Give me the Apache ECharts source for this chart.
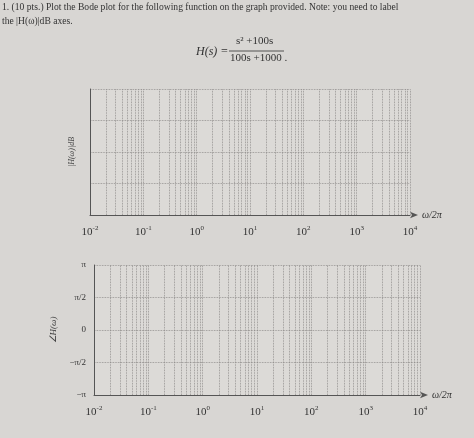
<!DOCTYPE html>
<html>
<head>
<meta charset="utf-8">
<script src="https://cdn.jsdelivr.net/npm/echarts@6/dist/echarts.min.js"></script>
<style>html,body{margin:0;padding:0;background:#d8d6d3}#chart{width:474px;height:438px}</style>
</head>
<body>
<div id="chart"></div>
<script>
// 频率范围 (对数轴)
const freqMin = 0.01;
const freqMax = 10000;
const decades = [0.01, 0.1, 1, 10, 100, 1000];
const minorMultipliers = [2, 3, 4, 5, 6, 7, 8, 9];
// 相位刻度
const phaseTicks = { '2': 'π', '1': 'π/2', '0': '0', '-1': '−π/2', '-2': '−π' };

const minorLines = [];
decades.forEach(d => minorMultipliers.forEach(m => minorLines.push({ xAxis: d * m })));
decades.slice(1).forEach(d => minorLines.push({ xAxis: d }));

const gridLine = { color: '#8a8886', width: 0.8, type: 'dotted' };
const labelRich = {
    b: { fontFamily: 'Liberation Serif', fontSize: 11, color: '#333' },
    s: { fontFamily: 'Liberation Serif', fontSize: 7, color: '#333', verticalAlign: 'top', padding: [0, 0, 8, 0] }
};
function powLabel(v) {
    return '{b|10}{s|' + Math.round(Math.log10(v)) + '}';
}
function xAxisOf(idx) {
    return {
        type: 'log', logBase: 10, min: freqMin, max: freqMax, gridIndex: idx,
        name: 'ω/2π', nameGap: 12,
        nameTextStyle: { fontFamily: 'Liberation Serif', fontStyle: 'italic', fontSize: 10, color: '#333' },
        axisLine: { onZero: false, lineStyle: { color: '#555', width: 1 }, symbol: ['none', 'arrow'], symbolSize: [5, 8], symbolOffset: [0, 8] },
        axisTick: { show: false },
        splitLine: { show: false },
        axisLabel: { formatter: powLabel, rich: labelRich, margin: 10 }
    };
}

const chart = echarts.init(document.getElementById('chart'));
chart.setOption({
    animation: false,
    backgroundColor: '#d8d6d3',
    graphic: [
        { type: 'text', left: 2, top: 2, style: { text: '1. (10 pts.) Plot the Bode plot for the following function on the graph provided. Note: you need to label', font: '9.6px "Liberation Serif"', fill: '#333' } },
        { type: 'text', left: 2, top: 16, style: { text: 'the |H(ω)|dB axes.', font: '9.6px "Liberation Serif"', fill: '#333' } },
        { type: 'text', left: 196, top: 46, style: { text: 'H(s) =', font: 'italic 12px "Liberation Serif"', fill: '#333' } },
        { type: 'text', left: 236, top: 36, style: { text: 's² +100s', font: '11px "Liberation Serif"', fill: '#333' } },
        { type: 'line', shape: { x1: 229, y1: 51, x2: 284, y2: 51 }, style: { stroke: '#333', lineWidth: 0.8 } },
        { type: 'text', left: 230, top: 53, style: { text: '100s +1000 .', font: '11px "Liberation Serif"', fill: '#333' } }
    ],
    grid: [
        { left: 90, right: 64, top: 89, height: 126, show: true, backgroundColor: '#dcdad7', borderWidth: 0 },
        { left: 94, right: 54, top: 265, height: 130, show: true, backgroundColor: '#dcdad7', borderWidth: 0 }
    ],
    xAxis: [xAxisOf(0), xAxisOf(1)],
    yAxis: [
        {
            type: 'value', gridIndex: 0, min: 0, max: 4, interval: 1,
            name: '|H(ω)|dB', nameLocation: 'middle', nameGap: 14, nameRotate: 90,
            nameTextStyle: { fontFamily: 'Liberation Serif', fontStyle: 'italic', fontSize: 8, color: '#444' },
            axisLine: { show: true, lineStyle: { color: '#555' } },
            axisTick: { show: false }, axisLabel: { show: false },
            splitLine: { lineStyle: gridLine }
        },
        {
            type: 'value', gridIndex: 1, min: -2, max: 2, interval: 1,
            name: '∠H(ω)', nameLocation: 'middle', nameGap: 36, nameRotate: 90,
            nameTextStyle: { fontFamily: 'Liberation Serif', fontStyle: 'italic', fontSize: 9, color: '#444' },
            axisLine: { show: true, lineStyle: { color: '#555' } },
            axisTick: { show: false },
            axisLabel: { formatter: v => phaseTicks[String(v)], fontFamily: 'Liberation Serif', fontSize: 9, color: '#333', margin: 8 },
            splitLine: { lineStyle: gridLine }
        }
    ],
    series: [0, 1].map(i => ({
        type: 'line', xAxisIndex: i, yAxisIndex: i, data: [], silent: true,
        markLine: { silent: true, symbol: 'none', label: { show: false }, lineStyle: gridLine, data: minorLines.concat([{ xAxis: freqMax }]) }
    }))
});
</script>
</body>
</html>
